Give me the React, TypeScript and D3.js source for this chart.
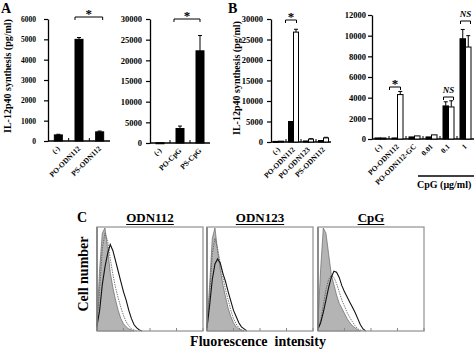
import React, { useEffect, useRef } from "react";
import * as d3 from "d3";

const FONT = "'Liberation Serif', 'Times New Roman', serif";

// panel A
const catsA1 = ["(-)", "PO-ODN112", "PS-ODN112"];
const valsA1 = [300, 5000, 450];
const errsA1 = [30, 90, 40];
const catsA2 = ["(-)", "PO-CpG", "PS-CpG"];
const valsA2 = [60, 3500, 22300];
const errsA2 = [0, 600, 3700];

// panel B
const catsB1 = ["(-)", "PO-ODN112", "PO-ODN123", "PS-ODN112"];
const blackB1 = [150, 5000, 250, 350];
const blackErrB1 = [0, 0, 0, 0];
const whiteB1 = [200, 26800, 700, 1000];
const whiteErrB1 = [0, 700, 100, 150];
const catsB2 = ["(-)", "PO-ODN112", "PO-ODN112-GC", "0.01", "0.1", "1"];
const blackB2 = [100, 100, 200, 200, 3200, 9700];
const blackErrB2 = [0, 0, 0, 0, 400, 900];
const whiteB2 = [100, 4300, 300, 400, 3100, 8900];
const whiteErrB2 = [0, 300, 0, 0, 600, 1100];

// panel C histograms (relative counts per channel bin, 40 bins across)
const histTitles = ["ODN112", "ODN123", "CpG"];
const grayHist = [
	[10, 60, 95, 100, 80, 57, 42, 30, 20, 12, 7, 4, 2, 1, 0],
	[5, 45, 90, 100, 78, 60, 45, 33, 22, 14, 8, 4, 2, 1, 0],
	[10, 60, 100, 95, 75, 55, 45, 35, 27, 22, 17, 12, 8, 5, 3, 1, 0],
];
const blackHist = [
	[5, 20, 45, 62, 75, 84, 78, 68, 58, 48, 38, 30, 20, 12, 6, 3, 1, 0],
	[3, 25, 50, 65, 70, 66, 56, 48, 38, 29, 20, 14, 8, 4, 2, 0],
	[2, 8, 18, 30, 42, 52, 58, 57, 52, 44, 38, 33, 28, 23, 18, 12, 6, 2, 0],
];
const dottedHist = [
	[5, 40, 80, 95, 88, 70, 55, 42, 32, 23, 15, 9, 5, 2, 1, 0],
	[4, 35, 75, 90, 80, 66, 52, 40, 30, 20, 12, 7, 3, 1, 0],
	[3, 10, 25, 40, 50, 54, 52, 46, 38, 30, 24, 18, 13, 9, 5, 2, 1, 0],
];

interface BarPanel {
	cats: string[];
	black: number[];
	blackErr: number[];
	white?: number[];
	whiteErr?: number[];
	x0: number;
	x1: number;
	yTop: number;
	yBase: number;
	max: number;
	step: number;
	barW: number;
	tickFont: number;
	labelGap: number;
}

type G = d3.Selection<SVGGElement, unknown, null, undefined>;

function txt(g: G, x: number, y: number, s: string, size: number, anchor = "middle") {
	return g
		.append("text")
		.attr("x", x)
		.attr("y", y)
		.attr("font-family", FONT)
		.attr("font-weight", "bold")
		.attr("font-size", size)
		.attr("text-anchor", anchor)
		.text(s);
}

function drawBars(g: G, p: BarPanel) {
	const x = d3.scaleBand().domain(p.cats).range([p.x0, p.x1]);
	const y = d3.scaleLinear().domain([0, p.max]).range([p.yBase, p.yTop]);
	const axis = d3
		.axisLeft(y)
		.tickValues(d3.range(0, p.max + 1, p.step))
		.tickSize(4)
		.tickSizeOuter(0)
		.tickFormat(d3.format("d"));
	const ag = g.append("g").attr("transform", `translate(${p.x0},0)`).call(axis);
	ag.select(".domain").attr("stroke", "#000").attr("stroke-width", 1.3);
	ag.selectAll("line").attr("stroke", "#000").attr("stroke-width", 1.2);
	ag.selectAll("text")
		.attr("font-family", FONT)
		.attr("font-weight", "bold")
		.attr("font-size", p.tickFont)
		.attr("x", -p.labelGap);
	// baseline
	g.append("line")
		.attr("x1", p.x0)
		.attr("x2", p.x1)
		.attr("y1", p.yBase)
		.attr("y2", p.yBase)
		.attr("stroke", "#000")
		.attr("stroke-width", 1.3);
	// category boundary ticks
	p.cats.slice(1).forEach((c) => {
		g.append("line")
			.attr("x1", x(c)!)
			.attr("x2", x(c)!)
			.attr("y1", p.yBase)
			.attr("y2", p.yBase - 3)
			.attr("stroke", "#000");
	});
	const series = p.white
		? [
				{ vals: p.black, errs: p.blackErr, fill: "#000", off: -p.barW },
				{ vals: p.white, errs: p.whiteErr!, fill: "#fff", off: 0 },
		  ]
		: [{ vals: p.black, errs: p.blackErr, fill: "#000", off: -p.barW / 2 }];
	series.forEach((s) => {
		p.cats.forEach((c, i) => {
			const cx = x(c)! + x.bandwidth() / 2;
			const bx = cx + s.off;
			const top = y(s.vals[i]);
			if (s.errs[i] > 0) {
				const et = y(s.vals[i] + s.errs[i]);
				g.append("line")
					.attr("x1", bx + p.barW / 2)
					.attr("x2", bx + p.barW / 2)
					.attr("y1", top)
					.attr("y2", et)
					.attr("stroke", "#000")
					.attr("stroke-width", 1);
				g.append("line")
					.attr("x1", bx + p.barW / 2 - 2)
					.attr("x2", bx + p.barW / 2 + 2)
					.attr("y1", et)
					.attr("y2", et)
					.attr("stroke", "#000")
					.attr("stroke-width", 1);
			}
			g.append("rect")
				.attr("x", bx)
				.attr("y", top)
				.attr("width", p.barW)
				.attr("height", Math.max(p.yBase - top, 1))
				.attr("fill", s.fill)
				.attr("stroke", "#000")
				.attr("stroke-width", 1);
		});
	});
	// rotated category labels
	p.cats.forEach((c) => {
		const cx = x(c)! + x.bandwidth() / 2 + 2;
		g.append("text")
			.attr("transform", `translate(${cx},${p.yBase + 8}) rotate(-45)`)
			.attr("font-family", FONT)
			.attr("font-weight", "bold")
			.attr("font-size", 7.5)
			.attr("text-anchor", "end")
			.text(c);
	});
	return x;
}

function bracket(g: G, x1: number, x2: number, y: number, label: string, italic = false) {
	g.append("path")
		.attr("d", `M${x1},${y + 3}V${y}H${x2}V${y + 3}`)
		.attr("fill", "none")
		.attr("stroke", "#000")
		.attr("stroke-width", 1);
	const t = txt(g, (x1 + x2) / 2, italic ? y - 4 : y + 1, label, italic ? 9 : 13);
	if (italic) t.attr("font-style", "italic");
}

function draw(svgEl: SVGSVGElement) {
	const svg = d3.select(svgEl);
	svg.selectAll("*").remove();
	const g = svg.append("g") as unknown as G;

	// panel letters
	txt(g, 1, 13, "A", 14, "start");
	txt(g, 228, 13, "B", 14, "start");
	txt(g, 77, 222, "C", 14, "start");

	// y axis titles
	const yTitle = (xx: number, yy: number) =>
		g
			.append("text")
			.attr("transform", `translate(${xx},${yy}) rotate(-90)`)
			.attr("font-family", FONT)
			.attr("font-weight", "bold")
			.attr("font-size", 10)
			.attr("text-anchor", "middle")
			.text("IL-12p40 synthesis (pg/ml)");
	yTitle(11, 76);
	yTitle(240, 78);

	const xA1 = drawBars(g, {
		cats: catsA1, black: valsA1, blackErr: errsA1,
		x0: 48, x1: 110, yTop: 19, yBase: 141, max: 6000, step: 1000, barW: 8, tickFont: 7.5, labelGap: 12,
	});
	const xA2 = drawBars(g, {
		cats: catsA2, black: valsA2, blackErr: errsA2,
		x0: 150, x1: 210, yTop: 19, yBase: 143, max: 30000, step: 5000, barW: 8, tickFont: 8.5, labelGap: 8,
	});
	const xB1 = drawBars(g, {
		cats: catsB1, black: blackB1, blackErr: blackErrB1, white: whiteB1, whiteErr: whiteErrB1,
		x0: 271, x1: 331, yTop: 19, yBase: 142, max: 30000, step: 5000, barW: 5, tickFont: 8.5, labelGap: 8,
	});
	const xB2 = drawBars(g, {
		cats: catsB2, black: blackB2, blackErr: blackErrB2, white: whiteB2, whiteErr: whiteErrB2,
		x0: 372, x1: 474, yTop: 15, yBase: 139, max: 12000, step: 2000, barW: 5.5, tickFont: 8.5, labelGap: 6,
	});

	const mid = (sc: d3.ScaleBand<string>, c: string) => sc(c)! + sc.bandwidth() / 2;
	bracket(g, mid(xA1, "PO-ODN112") - 4, mid(xA1, "PS-ODN112") + 3, 17, "*");
	bracket(g, mid(xA2, "PO-CpG") - 6, mid(xA2, "PS-CpG"), 19, "*");
	bracket(g, mid(xB1, "PO-ODN112") - 8, mid(xB1, "PO-ODN112") + 3, 20, "*");
	bracket(g, mid(xB2, "PO-ODN112") - 8, mid(xB2, "PO-ODN112") + 3, 87, "*");
	bracket(g, mid(xB2, "0.1") - 5, mid(xB2, "0.1") + 5, 97, "NS", true);
	bracket(g, mid(xB2, "1") - 5, mid(xB2, "1") + 5, 21, "NS", true);

	// CpG concentration label
	g.append("line").attr("x1", 418).attr("x2", 474).attr("y1", 176).attr("y2", 176).attr("stroke", "#000").attr("stroke-width", 1.3);
	txt(g, 417, 188, "CpG (\u03bcg/ml)", 10, "start");

	// panel C
	const boxes = [97, 207, 318];
	const bw = 106;
	const bTop = 227;
	const bBot = 331;
	boxes.forEach((bx, k) => {
		const hx = d3.scaleLinear().domain([0, 40]).range([bx, bx + bw]);
		const hy = d3.scaleLinear().domain([0, 100]).range([bBot, bTop + 1]);
		const area = d3
			.area<number>()
			.x((_, i) => hx(i))
			.y0(bBot)
			.y1((d) => hy(d));
		const line = d3
			.line<number>()
			.x((_, i) => hx(i))
			.y((d) => hy(d));
		g.append("path").attr("d", area(grayHist[k])).attr("fill", "#b4b4b4").attr("stroke", "#666").attr("stroke-width", 0.7);
		g.append("path")
			.attr("d", line(dottedHist[k]))
			.attr("fill", "none")
			.attr("stroke", "#555")
			.attr("stroke-width", 0.8)
			.attr("stroke-dasharray", "1.5 1");
		g.append("path").attr("d", line(blackHist[k])).attr("fill", "none").attr("stroke", "#111").attr("stroke-width", 1.1);
		g.append("line").attr("x1", bx).attr("x2", bx).attr("y1", bTop).attr("y2", bBot).attr("stroke", "#111").attr("stroke-width", 1.2);
		g.append("rect")
			.attr("x", bx)
			.attr("y", bTop)
			.attr("width", bw)
			.attr("height", bBot - bTop)
			.attr("fill", "none")
			.attr("stroke", "#999")
			.attr("stroke-width", 1.3);
		d3.range(0, 41, 10).forEach((t) => {
			g.append("line").attr("x1", hx(t)).attr("x2", hx(t)).attr("y1", bBot).attr("y2", bBot - 3).attr("stroke", "#888");
		});
		const cx = bx + bw / 2;
		const title = txt(g, cx, 222, histTitles[k], 13);
		const tw = (title.node() as SVGTextElement).getComputedTextLength();
		g.append("line")
			.attr("x1", cx - tw / 2)
			.attr("x2", cx + tw / 2)
			.attr("y1", 224.5)
			.attr("y2", 224.5)
			.attr("stroke", "#000")
			.attr("stroke-width", 1);
	});
	g.append("text")
		.attr("transform", `translate(88,274) rotate(-90)`)
		.attr("font-family", FONT)
		.attr("font-weight", "bold")
		.attr("font-size", 14)
		.attr("text-anchor", "middle")
		.text("Cell number");
	txt(g, 258, 346, "Fluorescence  intensity", 14).style("white-space", "pre");
}

export default function App() {
	const ref = useRef<SVGSVGElement>(null);
	useEffect(() => {
		if (!ref.current) return;
		draw(ref.current);
	}, []);
	return (
		<svg
			ref={ref}
			width={474}
			height={351}
			viewBox="0 0 474 351"
			style={{ position: "absolute", left: 0, top: 0, background: "#fff" }}
		/>
	);
}
